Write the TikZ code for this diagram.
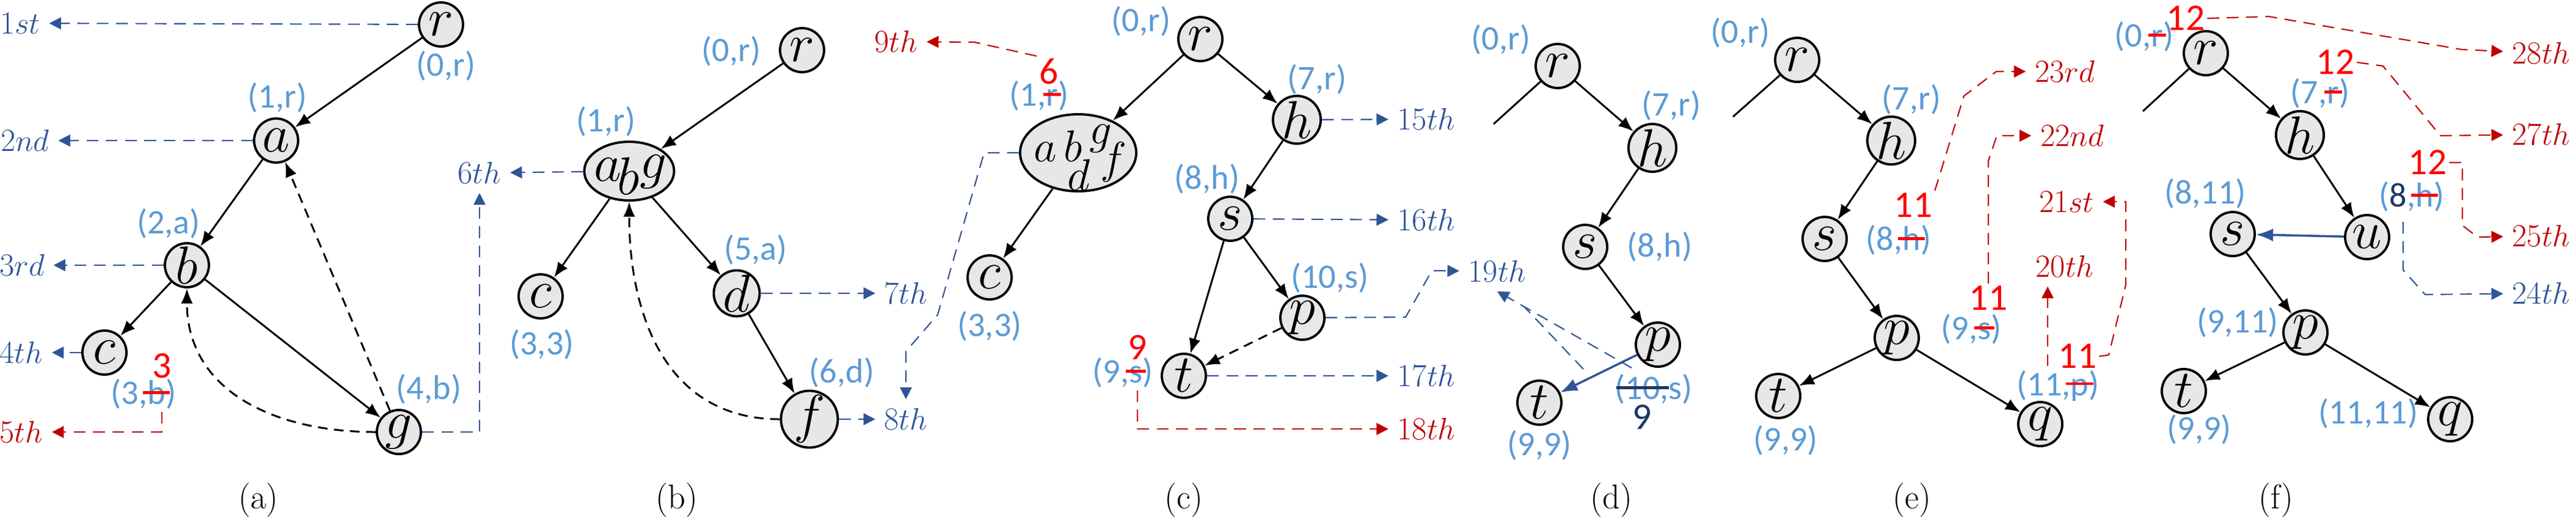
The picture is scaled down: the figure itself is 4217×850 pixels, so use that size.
\documentclass[tikz,border=0pt]{standalone}
\usepackage{fontspec}
\newfontfamily\pairfont{Carlito}
\usetikzlibrary{arrows.meta,shapes.geometric,calc}
\definecolor{pairblue}{HTML}{5B9BD5}
\definecolor{ordblue}{HTML}{2F5597}
\definecolor{ordred}{HTML}{C00000}
\definecolor{numred}{HTML}{FF0000}
\definecolor{navy}{HTML}{1F3864}
\definecolor{nodegray}{HTML}{E7E7E7}
\newlength\xolen
\newcommand\xo[2][numred]{\settowidth\xolen{#2}#2\llap{\textcolor{#1}{\rule[0.3em]{1.5\xolen}{1.3pt}}\hspace{-0.25\xolen}}}
\newcommand\at[3]{\makebox[0pt]{\hspace*{#1}\hspace*{#1}\raisebox{#2}[0pt][0pt]{$#3$}}}
\begin{document}
\begin{tikzpicture}[x=0.01cm,y=-0.01cm,>={Latex[length=7pt,width=5.5pt]},
vtx/.style={circle,draw,line width=1.1pt,fill=nodegray,minimum size=0.72cm,inner sep=0pt,font=\fontsize{26}{26}\selectfont},
blob/.style={ellipse,draw,line width=1.1pt,fill=nodegray,inner sep=0pt,font=\fontsize{24}{24}\selectfont},
pair/.style={text=pairblue,font=\pairfont\fontsize{16}{16}\selectfont,inner sep=1pt},
numr/.style={text=numred,font=\pairfont\fontsize{17.5}{17.5}\selectfont,inner sep=1pt},
ordb/.style={text=ordblue,font=\fontsize{15}{15}\selectfont,inner sep=4pt},
ordr/.style={ordb,text=ordred},
tree/.style={->,line width=0.85pt},
back/.style={tree,dash pattern=on 4.5pt off 3pt},
link/.style={-{Triangle[length=5.5pt,width=5.5pt]},draw=ordblue,line width=0.6pt,dash pattern=on 5.5pt off 3.5pt},
linkr/.style={link,draw=ordred},
jump/.style={-{Latex[length=8pt,width=6pt]},draw=ordblue,line width=1pt},
captext/.style={font=\fontsize{16}{16}\selectfont}]
\useasboundingbox (0,0) rectangle (4217,850);
% (a)
\draw (722,40) node[vtx] (ra) {$r$};
\draw (452,230) node[vtx] (aa) {$a$};
\draw (306,434) node[vtx] (ba) {$b$};
\draw (171,577) node[vtx] (ca) {$c$};
\draw (653,707) node[vtx] (ga) {$g$};
\draw (730,108) node[pair] {(0,r)};
\draw (454,160) node[pair] {(1,r)};
\draw (276,366) node[pair] {(2,a)};
\draw (235,645) node[pair] (pa3) {(3,\xo{b})};
\draw (265,599) node[numr] (n3a) {3};
\draw (702,637) node[pair] {(4,b)};
\draw (33,38) node[ordb] (o1) {1$st$};
\draw (41,230) node[ordb] (o2) {2$nd$};
\draw (36,434) node[ordb] (o3) {3$rd$};
\draw (35,577) node[ordb] (o4) {4$th$};
\draw (35,707) node[ordr] (o5) {5$th$};
\draw (785,283) node[ordb] (o6) {6$th$};
\draw[tree] (ra)--(aa);
\draw[tree] (aa)--(ba);
\draw[tree] (ba)--(ca);
\draw[tree] (ba)--(ga);
\draw[back] (ga)--(aa);
\draw[back] (ga.west) to[out=180,in=-90,looseness=1.1] (ba.south);
\draw[link] (ra)--(o1);
\draw[link] (aa)--(o2);
\draw[link] (ba)--(o3);
\draw[link] (ca)--(o4);
\draw[linkr] (pa3.south -| n3a) |- (o5);
\draw[link] (ga.east) -- (ga.east -| o6.south) -- (o6.south);
\draw (423,818) node[captext] {(a)};
% (b)
\draw (1313,82) node[vtx] (rb) {$r$};
\draw (1030,280) node[blob,minimum width=1.47cm,minimum height=0.96cm] (abg) {\at{-10pt}{-4.7pt}{a}\at{-0.3pt}{-11pt}{b}\at{11.2pt}{-3.3pt}{g}};
\draw (885,485) node[vtx] (cb) {$c$};
\draw (1206,480) node[vtx] (db) {$d$};
\draw (1325,686) node[vtx] (fb) {$f$};
\draw (1197,84) node[pair] {(0,r)};
\draw (992,199) node[pair] {(1,r)};
\draw (1237,409) node[pair] {(5,a)};
\draw (887,564) node[pair] {(3,3)};
\draw (1378,610) node[pair] {(6,d)};
\draw (1483,480) node[ordb] (o7) {7$th$};
\draw (1483,686) node[ordb] (o8) {8$th$};
\draw[tree] (rb)--(abg);
\draw[tree] (abg)--(cb);
\draw[tree] (abg)--(db);
\draw[tree] (db)--(fb);
\draw[back] (fb.west) to[out=180,in=-90,looseness=1.1] (abg.south);
\draw[link] (abg)--(o6);
\draw[link] (db)--(o7);
\draw[link] (fb)--(o8);
\draw (1108,818) node[captext] {(b)};
% (c)
\draw (1965,64) node[vtx] (rc) {$r$};
\draw (1765,250) node[blob,minimum width=1.9cm,minimum height=1.26cm,font=\fontsize{22}{22}\selectfont] (abgdf) {\at{-15.4pt}{-4.2pt}{a}\at{-2.3pt}{-4pt}{b}\at{10.5pt}{4.1pt}{g}\at{0.3pt}{-17.4pt}{d}\at{16.5pt}{-9.4pt}{f}};
\draw (2123,196) node[vtx] (hc) {$h$};
\draw (1620,454) node[vtx] (cc) {$c$};
\draw (2014,358) node[vtx] (sc) {$s$};
\draw (2132,520) node[vtx] (pc) {$p$};
\draw (1938,615) node[vtx] (tc) {$t$};
\draw (1868,35) node[pair] {(0,r)};
\draw (1701,157) node[pair] {(1,\xo{r})};
\draw (1717,117) node[numr] (n6c) {6};
\draw (2156,130) node[pair] {(7,r)};
\draw (1976,293) node[pair] {(8,h)};
\draw (2177,455) node[pair] {(10,s)};
\draw (1620,534) node[pair] {(3,3)};
\draw (1838,610) node[pair] (pc9) {(9,\xo{s})};
\draw (1862,569) node[numr] (n9c) {9};
\draw (1467,68) node[ordr] (o9) {9$th$};
\draw (2335,195) node[ordb] (o15) {15$th$};
\draw (2335,360) node[ordb] (o16) {16$th$};
\draw (2335,615) node[ordb] (o17) {17$th$};
\draw (2335,702) node[ordr] (o18) {18$th$};
\draw (2451,444) node[ordb] (o19) {19$th$};
\draw[tree] (rc)--(abgdf);
\draw[tree] (abgdf)--(cc);
\draw[tree] (rc)--(hc);
\draw[tree] (hc)--(sc);
\draw[tree] (sc)--(tc);
\draw[tree] (sc)--(pc);
\draw[back] (pc)--(tc);
\draw[linkr] (n6c.north west) -- (1595,69) -- (o9);
\draw[link] (abgdf.west) -- (1611,250) -- (1535,515) -- (1483,575) -- (o8.north);
\draw[link] (hc)--(o15);
\draw[link] (sc)--(o16);
\draw[link] (tc)--(o17);
\draw[linkr] (pc9.south -| n9c) |- (o18);
\draw[link] (pc) -- (2301,519) -- (2344,443) -- (o19);
\draw (1938,818) node[captext] {(c)};
% (d)
\draw (2550,108) node[vtx] (rd) {$r$};
\draw (2705,242) node[vtx] (hd) {$h$};
\draw (2595,404) node[vtx] (sd) {$s$};
\draw (2714,564) node[vtx] (pd) {$p$};
\draw (2520,659) node[vtx] (td) {$t$};
\coordinate (ld) at (2445,203);
\draw (2457,65) node[pair] {(0,r)};
\draw (2736,173) node[pair] {(7,r)};
\draw (2717,404) node[pair] {(8,h)};
\draw (2707,637) node[pair] {(\xo[navy]{10},s)};
\draw (2688,683) node[numr,text=navy] {9};
\draw (2520,729) node[pair] {(9,9)};
\coordinate (d1) at (2592,604);
\coordinate (d2) at (2671,602);
\draw[line width=0.85pt] (rd)--(ld);
\draw[tree] (rd)--(hd);
\draw[tree] (hd)--(sd);
\draw[tree] (sd)--(pd);
\draw[jump] (pd)--(td);
\draw[link] (d2)--(o19.south);
\draw[link,-] (d1)--($(d2)!0.8!(o19.south)$);
\draw (2638,818) node[captext] {(d)};
% (e)
\draw (2942,98) node[vtx] (re) {$r$};
\draw (3096,230) node[vtx] (he) {$h$};
\draw (2987,391) node[vtx] (se) {$s$};
\draw (3105,553) node[vtx] (pe) {$p$};
\draw (2911,648) node[vtx] (te) {$t$};
\draw (3340,694) node[vtx] (qe) {$q$};
\coordinate (le) at (2837,191);
\draw (2849,54) node[pair] {(0,r)};
\draw (3129,163) node[pair] {(7,r)};
\draw (3108,393) node[pair] {(8,\xo{h})};
\draw (3132,336) node[numr] (n8e) {11};
\draw (3227,539) node[pair] {(9,\xo{s})};
\draw (3255,488) node[numr] (n9e) {11};
\draw (3369,631) node[pair] {(11,\xo{p})};
\draw (3401,583) node[numr] (n11e) {11};
\draw (2923,721) node[pair] {(9,9)};
\draw (3380,117) node[ordr] (o23) {23$rd$};
\draw (3392,222) node[ordr] (o22) {22$nd$};
\draw (3383,330) node[ordr] (o21) {21$st$};
\draw (3380,436) node[ordr] (o20) {20$th$};
\coordinate (e20) at (3352,599);
\draw[line width=0.85pt] (re)--(le);
\draw[tree] (re)--(he);
\draw[tree] (he)--(se);
\draw[tree] (se)--(pe);
\draw[tree] (pe)--(te);
\draw[tree] (pe)--(qe);
\draw[linkr] (n8e.north east) -- (3215,157) -- (3268,117) -- (o23);
\draw[linkr] (n9e.north) -- (3255,263) -- (3269,222) -- (o22);
\draw[linkr] (n11e.east) -- (3452,581) -- (3480,466) -- (3480,330) -- (o21);
\draw[linkr] (e20) -- (e20 |- o20.south);
\draw (3130,818) node[captext] {(e)};
% (f)
\draw (3611,87) node[vtx] (rf) {$r$};
\draw (3765,221) node[vtx] (hf) {$h$};
\draw (3655,383) node[vtx] (sf) {$s$};
\draw (3875,388) node[vtx] (uf) {$u$};
\draw (3774,544) node[vtx] (pf) {$p$};
\draw (3575,640) node[vtx] (tf) {$t$};
\draw (4011,686) node[vtx] (qf) {$q$};
\coordinate (lf) at (3508,182);
\draw (3510,60) node[pair] {(0,\xo{r})};
\draw (3578,30) node[numr] (n0f) {12};
\draw (3798,153) node[pair] {(7,\xo{r})};
\draw (3823,102) node[numr] (n7f) {12};
\draw (3610,317) node[pair] {(8,11)};
\draw (3948,322) node[pair] {(\textcolor{navy}{8},\xo{h})};
\draw (3974,266) node[numr] (n8f) {12};
\draw (3663,528) node[pair] {(9,11)};
\draw (3600,703) node[pair] {(9,9)};
\draw (3877,677) node[pair] {(11,11)};
\draw (4160,87) node[ordr] (o28) {28$th$};
\draw (4160,220) node[ordr] (o27) {27$th$};
\draw (4160,386) node[ordr] (o25) {25$th$};
\draw (4160,480) node[ordb] (o24) {24$th$};
\coordinate (f24) at (3934,363);
\draw[line width=0.85pt] (rf)--(lf);
\draw[tree] (rf)--(hf);
\draw[tree] (hf)--(uf);
\draw[jump] (uf)--(sf);
\draw[tree] (sf)--(pf);
\draw[tree] (pf)--(tf);
\draw[tree] (pf)--(qf);
\draw[linkr] (n0f.east) -- (3714,27) -- (4030,81) -- (o28);
\draw[linkr] (n7f.east) -- (3901,108) -- (3995,222) -- (o27);
\draw[linkr] (n8f.east) -- (4031,266) -- (4031,369) -- (4056,388) -- (o25);
\draw[link] (f24) -- (3934,442) -- (3970,482) -- (o24);
\draw (3726,818) node[captext] {(f)};
\end{tikzpicture}
\end{document}
